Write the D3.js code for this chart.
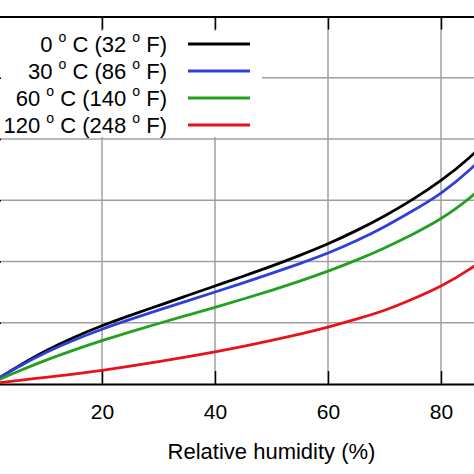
<!DOCTYPE html>
<html>
<head>
<meta charset="utf-8">
<script src="https://cdn.jsdelivr.net/npm/d3@7"></script>
<style>
  html, body { margin: 0; padding: 0; background: #fff; overflow: hidden; }
  svg { display: block; font-family: "Liberation Sans", Arial, sans-serif; }
</style>
</head>
<body>
<figure id="chart" style="margin:0"></figure>
<script>
// relative humidity (%) sample points
const humidity = [0, 5, 10, 15, 20, 25, 30, 35, 40, 45, 50, 55, 60, 65, 70, 75, 80, 85, 90];

// equilibrium moisture content per temperature
const emc0 = [0, 1.4, 2.7, 3.8, 4.75, 5.6, 6.4, 7.2, 8.0, 8.8, 9.62, 10.5, 11.45, 12.52, 13.72, 15.07, 16.62, 18.47, 20.72];
const emc30 = [0, 1.35, 2.55, 3.57, 4.47, 5.27, 6.03, 6.77, 7.51, 8.26, 9.03, 9.83, 10.69, 11.69, 12.84, 14.14, 15.59, 17.45, 19.7];
const emc60 = [0, 1.0, 1.93, 2.77, 3.54, 4.26, 4.94, 5.6, 6.26, 6.94, 7.65, 8.4, 9.21, 10.11, 11.11, 12.23, 13.51, 15.16, 17.11];
const emc120 = [0, 0.28, 0.54, 0.81, 1.11, 1.45, 1.82, 2.21, 2.63, 3.08, 3.56, 4.08, 4.65, 5.29, 6.02, 6.94, 8.0, 9.35, 11.05];

const tempC = ["0", "30", "60", "120"];
const tempF = ["32", "86", "140", "248"];
const seriesValues = [emc0, emc30, emc60, emc120];
const seriesColors = ["#000000", "#2f3fd9", "#22a022", "#e8121a"];

const xTicks = [20, 40, 60, 80];
const yTicks = [5, 10, 15, 20, 25];
const xTitle = "Relative humidity (%)";

const width = 474, height = 474;

const svg = d3.select("#chart")
  .append("svg")
  .attr("width", width)
  .attr("height", height);

svg.append("rect").attr("width", width).attr("height", height).attr("fill", "#fff");

// plot area runs past the left and right edges of the picture
const x = d3.scaleLinear().domain([0, 100]).range([-11, 554]);
const y = d3.scaleLinear().domain([0, 30]).range([384, 16.5]);

// grid
const grid = svg.append("g");
grid.selectAll("line.v")
  .data(xTicks)
  .enter().append("line")
  .attr("x1", d => x(d)).attr("x2", d => x(d))
  .attr("y1", y(0)).attr("y2", y(30))
  .attr("stroke", "#a0a0a0").attr("stroke-width", 1.5);
grid.selectAll("line.h")
  .data(yTicks)
  .enter().append("line")
  .attr("x1", x(0)).attr("x2", x(100))
  .attr("y1", d => y(d)).attr("y2", d => y(d))
  .attr("stroke", "#a0a0a0").attr("stroke-width", 1.5);

// legend box (opaque)
svg.append("rect")
  .attr("x", -20).attr("y", 31)
  .attr("width", 282).attr("height", 106)
  .attr("fill", "#fff");

// axes, ticks pointing inward
const axisStyle = g => {
  g.selectAll("path.domain").attr("stroke", "#000").attr("stroke-width", 2);
  g.selectAll(".tick line").attr("stroke", "#000").attr("stroke-width", 1.5);
};

svg.append("g")
  .attr("transform", "translate(0," + y(0) + ")")
  .call(d3.axisBottom(x).tickValues(xTicks).tickSizeInner(-13).tickSizeOuter(0).tickPadding(20))
  .call(axisStyle)
  .call(g => g.selectAll("text").attr("font-size", 21).attr("fill", "#000").attr("font-family", "Liberation Sans, Arial, sans-serif"));

svg.append("g")
  .attr("transform", "translate(0," + y(30) + ")")
  .call(d3.axisTop(x).tickValues(xTicks).tickSizeInner(-13).tickSizeOuter(0).tickFormat(""))
  .call(axisStyle);

svg.append("g")
  .attr("transform", "translate(" + x(0) + ",0)")
  .call(d3.axisLeft(y).tickValues(yTicks).tickSizeInner(-12).tickSizeOuter(0).tickFormat(""))
  .call(axisStyle);

// curves
const line = d3.line()
  .x((d, i) => x(humidity[i]))
  .y(d => y(d))
  .curve(d3.curveNatural);

svg.append("g")
  .selectAll("path")
  .data(seriesValues)
  .enter().append("path")
  .attr("d", line)
  .attr("fill", "none")
  .attr("stroke", (d, i) => seriesColors[i])
  .attr("stroke-width", 2.8);

// legend entries
const legend = svg.append("g");
tempC.forEach((c, i) => {
  const ly = 44 + i * 27;
  const t = legend.append("text")
    .attr("x", 167).attr("y", ly + 8)
    .attr("text-anchor", "end")
    .attr("font-size", 22)
    .attr("fill", "#000");
  t.append("tspan").text(c + " ");
  t.append("tspan").attr("dy", -10).attr("font-size", 14).text("o");
  t.append("tspan").attr("dy", 10).text(" C (" + tempF[i] + " ");
  t.append("tspan").attr("dy", -10).attr("font-size", 14).text("o");
  t.append("tspan").attr("dy", 10).text(" F)");
  legend.append("line")
    .attr("x1", 188).attr("x2", 250)
    .attr("y1", ly).attr("y2", ly)
    .attr("stroke", seriesColors[i])
    .attr("stroke-width", 2.8);
});

// x axis title
svg.append("text")
  .attr("x", x(50)).attr("y", 459)
  .attr("text-anchor", "middle")
  .attr("font-size", 22)
  .attr("fill", "#000")
  .text(xTitle);
</script>
</body>
</html>
